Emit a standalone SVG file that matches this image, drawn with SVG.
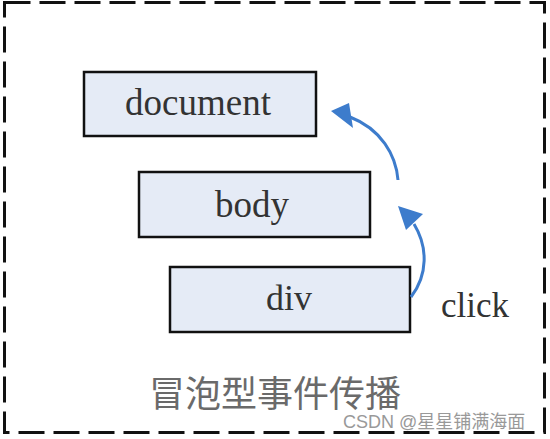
<svg xmlns="http://www.w3.org/2000/svg" width="550" height="439" viewBox="0 0 550 439">
<style>
.box{fill:#e5ebf6;stroke:#111;stroke-width:2.5}
.lbl{font-family:"Liberation Serif","Times New Roman",serif;fill:#333;text-anchor:middle}
.arr{fill:none;stroke:#3d7ccc;stroke-width:3}
.head{fill:#3d7ccc}
</style>
<rect x="4.5" y="2.5" width="540" height="430" fill="#fff" stroke="#111" stroke-width="3" stroke-dasharray="26 9"/>
<g id="document"><rect class="box" x="84" y="72" width="232" height="64"/><text class="lbl" x="198" y="115" font-size="37">document</text></g>
<g id="body"><rect class="box" x="139" y="172" width="231" height="65"/><text class="lbl" x="252" y="217" font-size="37">body</text></g>
<g id="div"><rect class="box" x="170" y="267" width="240" height="65"/><text class="lbl" x="289" y="310" font-size="36">div</text></g>
<g id="connectors">
<path class="arr" d="M398 180 C396 155 381 129 350 117"/>
<polygon class="head" points="331,111 349,103 353,128"/>
<path class="arr" d="M411 297 C428 275 428 247 414 224"/>
<polygon class="head" points="398,206 423,214 406,230"/>
</g>
<text class="lbl" x="475" y="317" font-size="35">click</text>
<text x="275" y="407" font-size="36" fill="#6a6a6a" text-anchor="middle" font-family="'Liberation Serif','Noto Sans CJK SC',serif">冒泡型事件传播</text>
<text x="343" y="428" font-size="18" fill="#999" font-family="'Liberation Sans','Noto Sans CJK SC',sans-serif">CSDN @星星铺满海面</text>
</svg>
